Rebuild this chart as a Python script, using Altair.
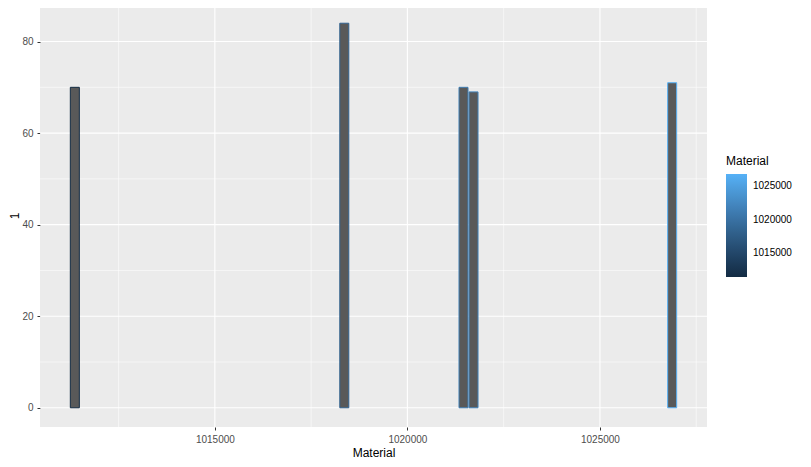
import altair as alt
import pandas as pd

# data
materials = [1011363, 1018361, 1021457, 1021717, 1026876]
counts = [70, 84, 70, 69, 71]

x_major = [1015000, 1020000, 1025000]
x_minor = [1012500, 1017500, 1022500, 1027500]
y_major = [0, 20, 40, 60, 80]
y_minor = [10, 30, 50, 70]
legend_values = [1015000, 1020000, 1025000]

# ggplot-like geometry
diffs = [b - a for a, b in zip(sorted(materials), sorted(materials)[1:])]
half = 0.45 * min(diffs)
lo = min(materials) - half
hi = max(materials) + half
ex = 0.05 * (hi - lo)
x_domain = [lo - ex, hi + ex]
y_domain = [-0.05 * max(counts), max(counts) * 1.05]

df = pd.DataFrame({"Material": materials, "n": counts})

W, H = 667, 423

xscale = alt.Scale(domain=x_domain, nice=False, zero=False)
yscale = alt.Scale(domain=y_domain, nice=False, zero=False)
xaxis = alt.Axis(values=x_major, format="d", labelPadding=4, titlePadding=3, title="Material")
yaxis = alt.Axis(values=y_major, labelPadding=4, title="1", titleX=-26, titleY=H / 2,
                 titleAngle=-90, titleAlign="center", titleBaseline="middle")

vmaj = alt.Chart(pd.DataFrame({"x": x_major})).mark_rule(color="white", strokeWidth=1.1).encode(
    x=alt.X("x:Q", scale=xscale, axis=xaxis))
vmin = alt.Chart(pd.DataFrame({"x": x_minor})).mark_rule(color="white", strokeWidth=0.55).encode(
    x=alt.X("x:Q", scale=xscale, axis=xaxis))
hmaj = alt.Chart(pd.DataFrame({"y": y_major})).mark_rule(color="white", strokeWidth=1.1).encode(
    y=alt.Y("y:Q", scale=yscale, axis=yaxis))
hmin = alt.Chart(pd.DataFrame({"y": y_minor})).mark_rule(color="white", strokeWidth=0.55).encode(
    y=alt.Y("y:Q", scale=yscale, axis=yaxis))

bars = alt.Chart(df).transform_calculate(
    lo=f"datum.Material - {half}", hi=f"datum.Material + {half}"
).mark_bar(fill="#595959", strokeWidth=1, opacity=1).encode(
    x=alt.X("lo:Q", scale=xscale, axis=xaxis),
    x2="hi:Q",
    y=alt.Y("n:Q", scale=yscale, axis=yaxis),
    y2=alt.datum(0),
    stroke=alt.Stroke("Material:Q",
                      scale=alt.Scale(range=["#132B43", "#56B1F7"], zero=False, nice=False),
                      legend=alt.Legend(title="Material", orient="none", legendX=686, legendY=152,
                                        values=legend_values, format="d", gradientLength=103,
                                        gradientThickness=21, titlePadding=6, labelOffset=6,
                                        titleFontSize=12, titleFontWeight="normal",
                                        labelFontSize=10, labelColor="#000000",
                                        titleColor="#000000", gradientStrokeWidth=0)),
)

chart = alt.layer(vmin, vmaj, hmin, hmaj, bars).properties(
    width=W, height=H,
    autosize=alt.AutoSizeParams(type="none"),
    padding={"left": 32, "top": -4, "right": 96, "bottom": 40},
).configure_view(fill="#EBEBEB", stroke=None).configure_axis(
    domain=False, grid=False, tickColor="#333333", tickSize=3, tickWidth=1,
    labelColor="#4D4D4D", labelFontSize=10, labelFont="Liberation Sans",
    titleFont="Liberation Sans", titleFontSize=12, titleFontWeight="normal", titleColor="#000000",
).configure_legend(labelFont="Liberation Sans", titleFont="Liberation Sans")

chart.save("out.html", embed_options={"renderer": "svg", "actions": False})
